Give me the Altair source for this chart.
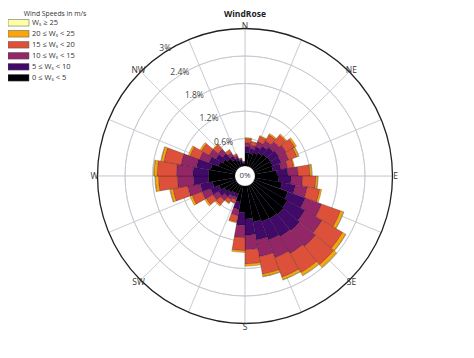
import math
import altair as alt
import pandas as pd

# ---------------- data ----------------
directions = [0, 10, 20, 30, 40, 50, 60, 70, 80, 90, 100, 110, 120, 130, 140, 150, 160, 170,
              180, 190, 200, 210, 220, 230, 240, 250, 260, 270, 280, 290, 300, 310, 320, 330, 340, 350]

speed_labels = ["0 ≤ Wₛ < 5", "5 ≤ Wₛ < 10", "10 ≤ Wₛ < 15", "15 ≤ Wₛ < 20", "20 ≤ Wₛ < 25", "Wₛ ≥ 25"]
speed_colors = ["#000004", "#420a68", "#932667", "#dd513a", "#fca50a", "#fcffa4"]

ws_0_5 = [0.30, 0.28, 0.32, 0.36, 0.40, 0.42, 0.42, 0.40, 0.48, 0.52, 0.60, 0.78, 0.85, 0.88, 0.86, 0.84, 0.80, 0.72,
          0.58, 0.36, 0.20, 0.21, 0.25, 0.30, 0.38, 0.50, 0.58, 0.58, 0.54, 0.40, 0.34, 0.28, 0.20, 0.15, 0.10, 0.06]
ws_5_10 = [0.12, 0.11, 0.14, 0.17, 0.19, 0.21, 0.20, 0.18, 0.24, 0.27, 0.30, 0.40, 0.44, 0.46, 0.45, 0.43, 0.40, 0.35,
           0.28, 0.16, 0.08, 0.09, 0.12, 0.15, 0.20, 0.27, 0.33, 0.34, 0.32, 0.22, 0.18, 0.14, 0.09, 0.06, 0.04, 0.02]
ws_10_15 = [0.09, 0.08, 0.12, 0.14, 0.17, 0.19, 0.18, 0.15, 0.22, 0.25, 0.26, 0.38, 0.43, 0.45, 0.43, 0.41, 0.37, 0.32,
            0.27, 0.14, 0.06, 0.08, 0.11, 0.14, 0.20, 0.28, 0.35, 0.36, 0.34, 0.22, 0.17, 0.13, 0.08, 0.05, 0.02, 0.01]
ws_15_20 = [0.09, 0.07, 0.12, 0.15, 0.19, 0.22, 0.19, 0.13, 0.26, 0.29, 0.28, 0.44, 0.52, 0.52, 0.48, 0.45, 0.39, 0.31,
            0.28, 0.14, 0.07, 0.08, 0.13, 0.17, 0.23, 0.33, 0.41, 0.42, 0.38, 0.22, 0.19, 0.13, 0.07, 0.04, 0.02, 0.01]
ws_20_25 = [0.02, 0.01, 0.02, 0.03, 0.03, 0.04, 0.04, 0.02, 0.04, 0.04, 0.04, 0.07, 0.08, 0.08, 0.07, 0.06, 0.05, 0.05,
            0.04, 0.02, 0.01, 0.02, 0.03, 0.04, 0.05, 0.06, 0.07, 0.07, 0.06, 0.04, 0.04, 0.02, 0.01, 0.00, 0.00, 0.00]
ws_25 = [0.00, 0.00, 0.00, 0.00, 0.00, 0.00, 0.01, 0.00, 0.01, 0.01, 0.00, 0.01, 0.01, 0.01, 0.01, 0.01, 0.01, 0.00,
         0.00, 0.00, 0.00, 0.00, 0.00, 0.00, 0.00, 0.01, 0.01, 0.01, 0.01, 0.00, 0.00, 0.00, 0.00, 0.00, 0.00, 0.00]
speed_series = [ws_0_5, ws_5_10, ws_10_15, ws_15_20, ws_20_25, ws_25]
bin_width = 10

ring_values = [0.6, 1.2, 1.8, 2.4, 3.0]
ring_labels = ["0.6%", "1.2%", "1.8%", "2.4%", "3%"]
compass_labels = ["N", "NE", "E", "SE", "S", "SW", "W", "NW"]
compass_angles = [0, 45, 90, 135, 180, 225, 270, 315]
spoke_angles = [0, 22.5, 45, 67.5, 90, 112.5, 135, 157.5, 180, 202.5, 225, 247.5, 270, 292.5, 315, 337.5]

legend_labels = ["Wₛ ≥ 25", "20 ≤ Wₛ < 25", "15 ≤ Wₛ < 20", "10 ≤ Wₛ < 15", "5 ≤ Wₛ < 10", "0 ≤ Wₛ < 5"]

# ---------------- tables ----------------
rows = []
for i, d in enumerate(directions):
    cum = 0.0
    for name, series in zip(speed_labels, speed_series):
        v = series[i]
        if v > 0:
            rows.append({"t0": d, "t1": d + bin_width, "r0": cum, "r1": cum + v, "speed": name})
        cum += v
bars_df = pd.DataFrame(rows)

rings_df = pd.DataFrame({"v": ring_values[:-1], "t0": 0, "t1": 360})
outer_df = pd.DataFrame({"v": [ring_values[-1]], "t0": [0], "t1": [360]})
spokes_df = pd.DataFrame({"t0": spoke_angles, "t1": [a + 0.05 for a in spoke_angles], "r0": 0.0, "r1": ring_values[-1]})
rlab_df = pd.DataFrame({"v": ring_values, "lab": ring_labels, "ang": 328})
comp_df = pd.DataFrame({"ang": compass_angles, "lab": compass_labels})
legend_df = pd.DataFrame({"label": legend_labels, "color": speed_colors[::-1]})

# ---------------- chart ----------------
CX, CY = 237, 168
FONT = "Open Sans"
theta_scale = alt.Scale(domain=[0, 360], range=[0, 2 * math.pi])
r_scale = alt.Scale(type="linear", domain=[0, 3], range=[10, 147.5])

def th(field):
    return alt.Theta(field, scale=theta_scale, stack=None)

def rr(field):
    return alt.Radius(field, scale=r_scale, stack=None)

rings = alt.Chart(rings_df).mark_arc(fill="transparent", stroke="#c4c8cf", strokeWidth=0.8).encode(
    x=alt.value(CX), y=alt.value(CY), theta=th("t0:Q"), theta2="t1:Q", radius=rr("v:Q"), radius2="v:Q")

spokes = alt.Chart(spokes_df).mark_arc(fill="transparent", stroke="#c4c8cf", strokeWidth=0.6).encode(
    x=alt.value(CX), y=alt.value(CY), theta=th("t0:Q"), theta2="t1:Q", radius=rr("r0:Q"), radius2="r1:Q")

bars = alt.Chart(bars_df).mark_arc(stroke="#000000", strokeWidth=0.6, strokeOpacity=0.35).encode(
    x=alt.value(CX), y=alt.value(CY),
    theta=th("t0:Q"), theta2="t1:Q", radius=rr("r0:Q"), radius2="r1:Q",
    color=alt.Color("speed:N", scale=alt.Scale(domain=speed_labels, range=speed_colors), legend=None))

outer = alt.Chart(outer_df).mark_arc(fill="transparent", stroke="#222222", strokeWidth=1.3).encode(
    x=alt.value(CX), y=alt.value(CY), theta=th("t0:Q"), theta2="t1:Q", radius=rr("v:Q"), radius2="v:Q")

rlabels = alt.Chart(rlab_df).mark_text(font=FONT, fontSize=8.5, color="#444444", radiusOffset=3).encode(
    x=alt.value(CX), y=alt.value(CY), theta=th("ang:Q"), radius=rr("v:Q"), text="lab:N")

zero_lab = alt.Chart(pd.DataFrame({"lab": ["0%"]})).mark_text(font=FONT, fontSize=8, color="#444444").encode(
    x=alt.value(CX), y=alt.value(CY), text="lab:N")

comp = alt.Chart(comp_df).mark_text(font=FONT, fontSize=8.5, color="#333333").encode(
    x=alt.value(CX), y=alt.value(CY), theta=th("ang:Q"), radius=alt.value(150.5), text="lab:N")

title = alt.Chart(pd.DataFrame({"lab": ["WindRose"]})).mark_text(
    font=FONT, fontSize=8.5, fontWeight="bold", color="#222222", baseline="alphabetic").encode(
    x=alt.value(CX), y=alt.value(9.2), text="lab:N")

leg_title = alt.Chart(pd.DataFrame({"lab": ["Wind Speeds in m/s"]})).mark_text(
    font=FONT, fontSize=6.8, color="#333333", baseline="alphabetic").encode(
    x=alt.value(47), y=alt.value(7.6), text="lab:N")

leg_y = alt.Y("label:N", sort=legend_labels, axis=None,
              scale=alt.Scale(domain=legend_labels, range=[11.5, 73.1], paddingInner=0.4, paddingOuter=0))

leg_rect = alt.Chart(legend_df).mark_rect(stroke="#555555", strokeWidth=0.5).encode(
    x=alt.value(0), x2=alt.value(21), y=leg_y,
    fill=alt.Fill("color:N", scale=None))

leg_text = alt.Chart(legend_df).mark_text(font=FONT, fontSize=7.5, color="#333333", align="left").encode(
    x=alt.value(24), y=leg_y, text="label:N")

chart = alt.layer(rings, spokes, bars, outer, rlabels, zero_lab, comp, title, leg_title, leg_rect, leg_text).properties(
    width=458, height=342, padding=0, autosize=alt.AutoSizeParams(type="none")
).configure_view(stroke=None)

chart.save("out.html", embed_options={"renderer": "svg", "actions": False})
